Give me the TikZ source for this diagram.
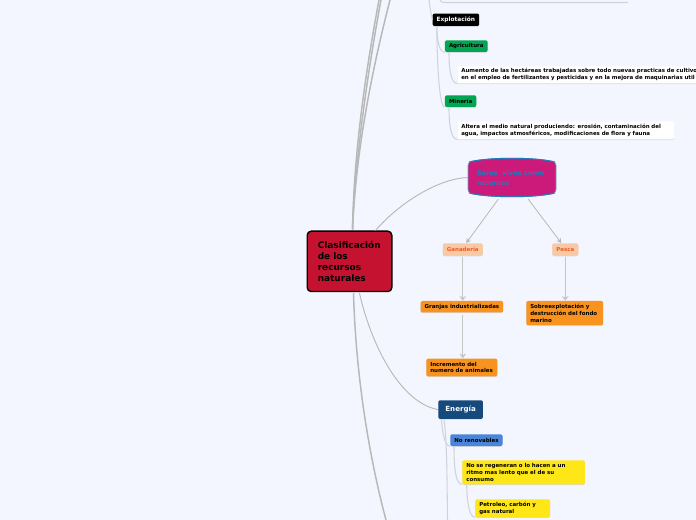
\documentclass[tikz,border=0pt]{standalone}
\usepackage{fontspec}
\setmainfont{DejaVu Sans}
\usetikzlibrary{arrows.meta,shadows}
\definecolor{bgcol}{HTML}{F3F6FF}
\definecolor{linecol}{HTML}{B8B8B8}
\definecolor{sublinecol}{HTML}{D0D3DB}
\definecolor{rootcol}{HTML}{C41230}
\definecolor{serescol}{HTML}{CC1A7A}
\definecolor{seresline}{HTML}{2478BC}
\definecolor{greencol}{HTML}{00A651}
\definecolor{peachcol}{HTML}{F9C9A4}
\definecolor{peachtext}{HTML}{F15A24}
\definecolor{orangecol}{HTML}{F7931E}
\definecolor{navycol}{HTML}{174A7C}
\definecolor{bluecol}{HTML}{4A86D8}
\definecolor{yellowcol}{HTML}{FFE616}
\tikzset{
  topic/.style={rounded corners=1.5pt,align=left,font=\fontsize{4.1}{5.1}\selectfont\bfseries,
    inner xsep=3pt,inner ysep=0pt,anchor=north west,
    drop shadow={shadow xshift=0pt,shadow yshift=-0.6pt,fill=sublinecol,opacity=0.8}},
  root/.style={rounded corners=3pt,align=left,font=\fontsize{6.7}{8.3}\selectfont\bfseries,
    inner xsep=8pt,inner ysep=0pt,anchor=north west,fill=rootcol,draw=black,line width=1pt},
  leaf/.style={topic,fill=white},
  green/.style={topic,fill=greencol},
  peach/.style={topic,fill=peachcol,text=peachtext},
  orange/.style={topic,fill=orangecol},
  yellow/.style={topic,fill=yellowcol},
  branch/.style={draw=linecol,line width=1.1pt},
  thinbranch/.style={draw=linecol,line width=0.7pt},
  sub/.style={draw=sublinecol,line width=0.8pt},
  link/.style={draw=linecol,line width=0.6pt,-{Stealth[length=3.5pt,width=4pt]}},
  downlink/.style={draw=linecol!80,line width=1pt,-{Stealth[length=3.5pt,width=5pt]}}
}
\begin{document}
\begin{tikzpicture}[x=0.75pt,y=-0.75pt]
  \useasboundingbox[fill=bgcol] (0,0) rectangle (696,520);
  % free ends
  \coordinate (up1) at (379,0);
  \coordinate (up2) at (381,0);
  \coordinate (up3) at (390,0);
  \coordinate (down1) at (386,520);
  \coordinate (down2) at (447.5,520);
  \coordinate (up4) at (429,0);
  \coordinate (up5) at (440,0);
  \coordinate (mid5) at (445,2.5);
  \coordinate (end5) at (628,2.5);
  % root
  \node[root,minimum height=45.3pt,text width=47.5pt] (A0) at (306.5,230.5) {Clasificación\\de los\\recursos\\naturales};
  % top part
  \node[topic,fill=black,text=white,font=\fontsize{4.4}{5.1}\selectfont\bfseries,minimum width=35pt,minimum height=9.3pt] (B1) at (432.3,13.3) {Explotación};
  \node[green,minimum width=32pt,minimum height=8.8pt] (C1) at (444.7,40) {Agricultura};
  \node[leaf,text width=190pt,minimum height=12.8pt] (D1) at (457,66) {\mbox{Aumento de las hectáreas trabajadas sobre todo nuevas practicas de cultivo}\\\mbox{en el empleo de fertilizantes y pesticidas y en la mejora de maquinarias util}};
  \node[green,minimum width=23.5pt,minimum height=8.8pt] (C2) at (444.7,95) {Minería};
  \node[leaf,text width=156.5pt,minimum height=13.5pt] (D2) at (457,121) {Altera el medio natural produciendo: erosión, contaminación del\\agua, impactos atmosféricos, modificaciones de flora y fauna};
  % seres vivos
  \draw[seresline!70,fill=serescol,line width=0.4pt,rounded corners=2.5pt] (468,162) .. controls (490,157) and (534,157) .. (556,162) -- (556,193)
    .. controls (534,198) and (490,198) .. (468,193) -- cycle;
  \draw[seresline,line width=0.7pt] (469,193) .. controls (490,198) and (534,198) .. (555,193);
  \draw[seresline,line width=0.7pt] (469,162) .. controls (490,157) and (534,157) .. (555,162);
  \node[anchor=north west,align=left,inner xsep=6.4pt,inner ysep=0pt,text=seresline,font=\fontsize{5}{7.5}\selectfont\bfseries,text width=53.2pt,minimum height=29pt] (A1) at (468,158) {Seres\ \ vivos como\\recursos};
  % ganaderia y pesca
  \node[peach,minimum width=30pt,minimum height=9.2pt] (E1) at (442.5,243) {Ganadería};
  \node[peach,minimum width=19.5pt,minimum height=9.2pt] (E2) at (552,243) {Pesca};
  \node[orange,minimum width=62pt,minimum height=8.6pt] (F1) at (420.3,300.7) {Granjas industrializadas};
  \node[orange,text width=47.3pt,minimum height=13.3pt] (F2) at (426,358.3) {Incremento del\\numero de animales};
  \node[orange,text width=51.7pt,minimum height=18.2pt] (F3) at (526,300.7) {Sobreexplotación y\\destrucción del fondo\\marino};
  % energia
  \node[topic,fill=navycol,text=white,font=\fontsize{5.3}{6.5}\selectfont\bfseries,minimum width=33.5pt,minimum height=14pt] (B2) at (438,400) {Energía};
  \node[topic,fill=bluecol,minimum width=39pt,minimum height=8.8pt] (C3) at (450,434) {No renovables};
  \node[yellow,text width=86pt,minimum height=18pt] (D3) at (462,460) {No se regeneran o lo hacen a un\\ritmo mas lento que el de su\\consumo};
  \node[yellow,text width=50.2pt,minimum height=13.3pt] (D4) at (475,499) {Petroleo, carbón y\\gas natural};
  % root branches
  \draw[branch] (A0.north) ++(3,-1) .. controls (354,150) and (366,70) .. (up1);
  \draw[branch] (A0.north) ++(3,-1) .. controls (355,160) and (368,70) .. (up2);
  \draw[branch] (A0.north) ++(3,-1) .. controls (356,150) and (372,70) .. (up3);
  \draw[thinbranch] (A0.north) ++(26,0) .. controls (400,202) and (440,178) .. (A1.west);
  \draw[branch] (A0.south) ++(4,1) .. controls (356,380) and (370,460) .. (down1);
  \draw[thinbranch] (A0.south) ++(10,1) .. controls (370,340) and (398,402) .. (B2.west);
  % sub branches
  \draw[sub] (up4) .. controls (430,8) .. (B1.west);
  \draw[sub] (up5) .. controls (441,2) .. (mid5) -- (end5);
  \draw[sub] (B1.south west) ++(4.5,0) .. controls (437,40) and (439,52) .. (C1.south west);
  \draw[sub] (B1.south west) ++(4.5,0) .. controls (437,60) and (439,107) .. (C2.south west);
  \draw[sub] (C1.south west) ++(4.3,0) .. controls (449,70) and (451,83) .. (D1.south west);
  \draw[sub] (C2.south west) ++(4.3,0) .. controls (449,125) and (451,139) .. (D2.south west);
  \draw[sub] (B2.south west) ++(3.5,0) .. controls (442,432) and (445,446) .. (C3.south west);
  \draw[sub] (B2.south west) ++(6,0) .. controls (447,440) and (447,480) .. (down2);
  \draw[sub] (C3.south west) ++(4,0) .. controls (454,470) and (456,484) .. (D3.south west);
  \draw[sub] (D3.south west) ++(4.7,0) .. controls (467,502) and (469,517) .. (D4.south west);
  % links
  \draw[link] (A1.south) ++(-14,2) -- ([xshift=2.6pt]E1.north);
  \draw[link] (A1.south) ++(16,2) -- ([xshift=-3pt]E2.north);
  \draw[downlink] (E1.south) ++(0,1) -- (F1.north -| E1.south);
  \draw[downlink] (E2.south) ++(0,1) -- (F3.north -| E2.south);
  \draw[downlink] (F1.south -| E1.south) ++(0,2) -- (F2.north -| E1.south);
\end{tikzpicture}
\end{document}
